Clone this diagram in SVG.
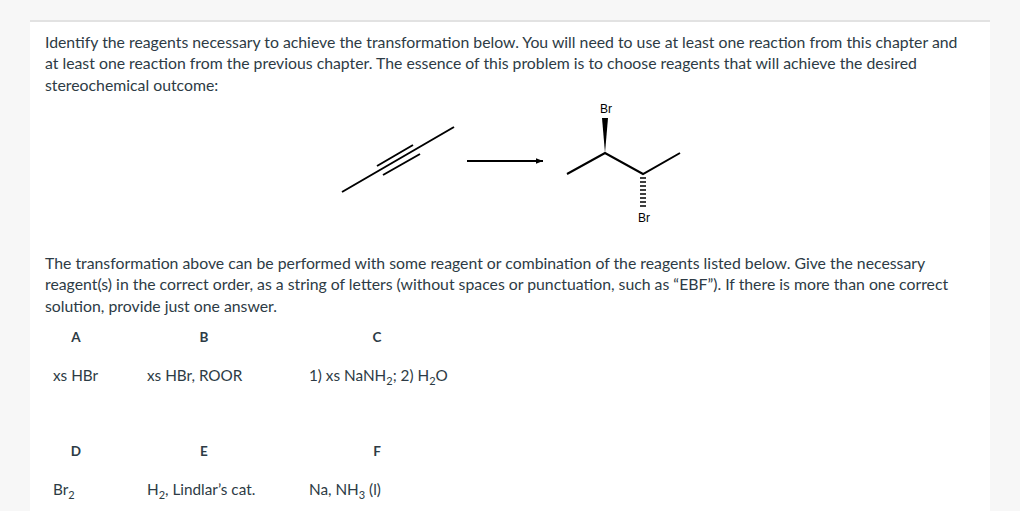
<svg xmlns="http://www.w3.org/2000/svg" width="1020" height="511" viewBox="0 0 1020 511">
<defs>
<style>
.t{font-family:Lato,"Liberation Sans",sans-serif;font-size:15.8px;fill:#2d3b45}
.r{font-family:Lato,"Liberation Sans",sans-serif;font-size:15.3px;fill:#2d3b45}
.h{font-family:Lato,"Liberation Sans",sans-serif;font-size:13.5px;font-weight:bold;fill:#2d3b45;text-anchor:middle}
.b{stroke:#000;stroke-width:2;fill:none}
.br{font-family:"Liberation Sans",Arial,sans-serif;font-size:12px;fill:#000;text-anchor:middle}
</style>
<marker id="ah" viewBox="0 0 10 10" refX="10" refY="5" markerWidth="7" markerHeight="7" orient="auto" markerUnits="userSpaceOnUse"><path d="M0,1 L10,5 L0,9 Z" fill="#000"/></marker>
</defs>
<rect width="1020" height="511" fill="#f7f7f7"/>
<rect x="30" y="21" width="960" height="490" fill="#fff"/>
<line x1="30" y1="21" x2="990" y2="21" stroke="#e2e2e2" stroke-width="2"/>
<text class="t" x="45" y="48">Identify the reagents necessary to achieve the transformation below. You will need to use at least one reaction from this chapter and</text>
<text class="t" x="45" y="69">at least one reaction from the previous chapter. The essence of this problem is to choose reagents that will achieve the desired</text>
<text class="t" x="45" y="91">stereochemical outcome:</text>
<g id="alkyne">
<path class="b" d="M342,192 L454,127 M377,166 L413,145 M383,175 L420,154" stroke-width="1.8"/>
</g>
<g id="connectors">
<line class="b" x1="467" y1="161" x2="543" y2="161" stroke-width="1.5" marker-end="url(#ah)"/>
</g>
<g id="product">
<path class="b" d="M567,174 L605,153 L643,174 L680,153" stroke-width="1.8"/>
<polygon points="605,153 602,118 608,118" fill="#000"/>
<path d="M640,178h6M640,182h6M640,186h6M640,190h6M640,194h6M640,198h6M640,202h6M640,206h6" stroke="#000" stroke-width="1.3"/>
<text class="br" x="606" y="113">Br</text>
<text class="br" x="644" y="222">Br</text>
</g>
<text class="t" x="45" y="269">The transformation above can be performed with some reagent or combination of the reagents listed below. Give the necessary</text>
<text class="t" x="45" y="290">reagent(s) in the correct order, as a string of letters (without spaces or punctuation, such as “EBF”). If there is more than one correct</text>
<text class="t" x="45" y="312">solution, provide just one answer.</text>
<g id="A"><text class="h" x="76" y="342">A</text><text class="r" x="53" y="381">xs HBr</text></g>
<g id="B"><text class="h" x="204" y="342">B</text><text class="r" x="147" y="381">xs HBr, ROOR</text></g>
<g id="C"><text class="h" x="377" y="342">C</text><text class="r" x="309" y="381">1) xs NaNH<tspan font-size="11" dy="4">2</tspan><tspan dy="-4">; 2) H</tspan><tspan font-size="11" dy="4">2</tspan><tspan dy="-4">O</tspan></text></g>
<g id="D"><text class="h" x="76" y="456">D</text><text class="r" x="53" y="495">Br<tspan font-size="11" dy="4">2</tspan></text></g>
<g id="E"><text class="h" x="204" y="456">E</text><text class="r" x="147" y="495">H<tspan font-size="11" dy="4">2</tspan><tspan dy="-4">, Lindlar’s cat.</tspan></text></g>
<g id="F"><text class="h" x="377" y="456">F</text><text class="r" x="309" y="495">Na, NH<tspan font-size="11" dy="4">3</tspan><tspan dy="-4"> (l)</tspan></text></g>
</svg>
